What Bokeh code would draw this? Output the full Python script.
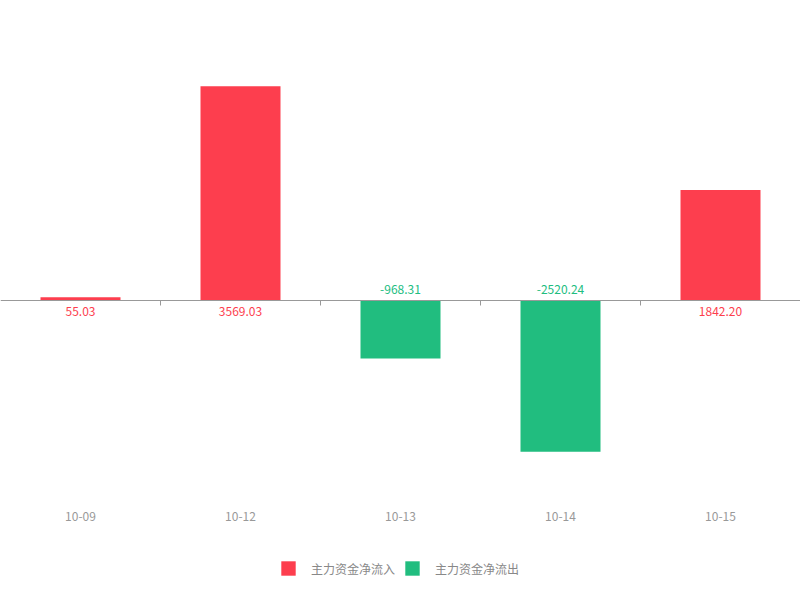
from bokeh.plotting import figure
from bokeh.models import (ColumnDataSource, Range1d, LinearAxis, FixedTicker,
                          Legend, LegendItem)
from bokeh.core.properties import value
from bokeh.embed import file_html
from bokeh.resources import INLINE

dates = ["10-09", "10-12", "10-13", "10-14", "10-15"]
flows = [55.03, 3569.03, -968.31, -2520.24, 1842.20]
series_names = ["主力资金净流入", "主力资金净流出"]

RED = "#fd3e4e"
GREEN = "#21bd7f"
FONT = "Noto Sans CJK SC"

Y_MIN, Y_MAX = -3000, 4000      # value axis extent of the chart grid
Y_VIEW_MIN = -5000              # extra room below the grid for labels/legend

idx = list(range(len(dates)))
pos = [i for i in idx if flows[i] >= 0]
neg = [i for i in idx if flows[i] < 0]

src_pos = ColumnDataSource(dict(x=pos, top=[flows[i] for i in pos],
                                lab=["%.2f" % flows[i] for i in pos]))
src_neg = ColumnDataSource(dict(x=neg, top=[flows[i] for i in neg],
                                lab=["%.2f" % flows[i] for i in neg]))

p = figure(width=800, height=600, output_backend="svg", toolbar_location=None,
           x_range=Range1d(-0.5, len(dates) - 0.5),
           y_range=Range1d(Y_VIEW_MIN, Y_MAX),
           min_border_left=0, min_border_right=0, min_border_top=60,
           min_border_bottom=0, x_axis_location=None, y_axis_location=None)
p.outline_line_color = None
p.xgrid.visible = False
p.ygrid.visible = False

r_pos = p.vbar(x="x", top="top", bottom=0, width=0.5, source=src_pos,
               fill_color=RED, line_color=None)
r_neg = p.vbar(x="x", top="top", bottom=0, width=0.5, source=src_neg,
               fill_color=GREEN, line_color=None)

p.text(x="x", y=0, text="lab", source=src_pos, text_align="center",
       text_baseline="top", y_offset=6, text_font=value(FONT),
       text_font_size="12px", text_color=RED)
p.text(x="x", y=0, text="lab", source=src_neg, text_align="center",
       text_baseline="bottom", y_offset=-7, text_font=value(FONT),
       text_font_size="12px", text_color=GREEN)

# category labels axis at the bottom of the grid
lab_axis = LinearAxis(fixed_location=Y_MIN, ticker=FixedTicker(ticks=idx),
                      major_label_overrides={i: d for i, d in enumerate(dates)},
                      axis_line_color=None, major_tick_line_color=None,
                      minor_tick_line_color=None, major_label_standoff=25,
                      major_label_text_font=FONT,
                      major_label_text_font_size="12px",
                      major_label_text_color="#999999")
p.add_layout(lab_axis, "below")

# baseline axis at zero with boundary ticks
bticks = [i + 0.5 for i in idx]
base_axis = LinearAxis(fixed_location=0,
                       ticker=FixedTicker(ticks=bticks),
                       major_label_overrides={t: "" for t in bticks},
                       axis_line_color="#999999", major_tick_line_color="#999999",
                       major_tick_in=0, major_tick_out=5,
                       minor_tick_line_color=None,
                       major_label_standoff=0)
p.add_layout(base_axis, "below")

legend = Legend(items=[LegendItem(label=series_names[0], renderers=[r_pos]),
                       LegendItem(label=series_names[1], renderers=[r_neg])],
                orientation="horizontal", location=(279, 23),
                padding=0, margin=0, spacing=8, label_standoff=14,
                glyph_width=18, glyph_height=18, label_height=18,
                label_text_font=FONT, label_text_font_size="12px",
                label_text_color="#888888", border_line_color=None,
                background_fill_alpha=0)
p.add_layout(legend, "center")

open("out.html", "w").write(file_html(p, INLINE))
